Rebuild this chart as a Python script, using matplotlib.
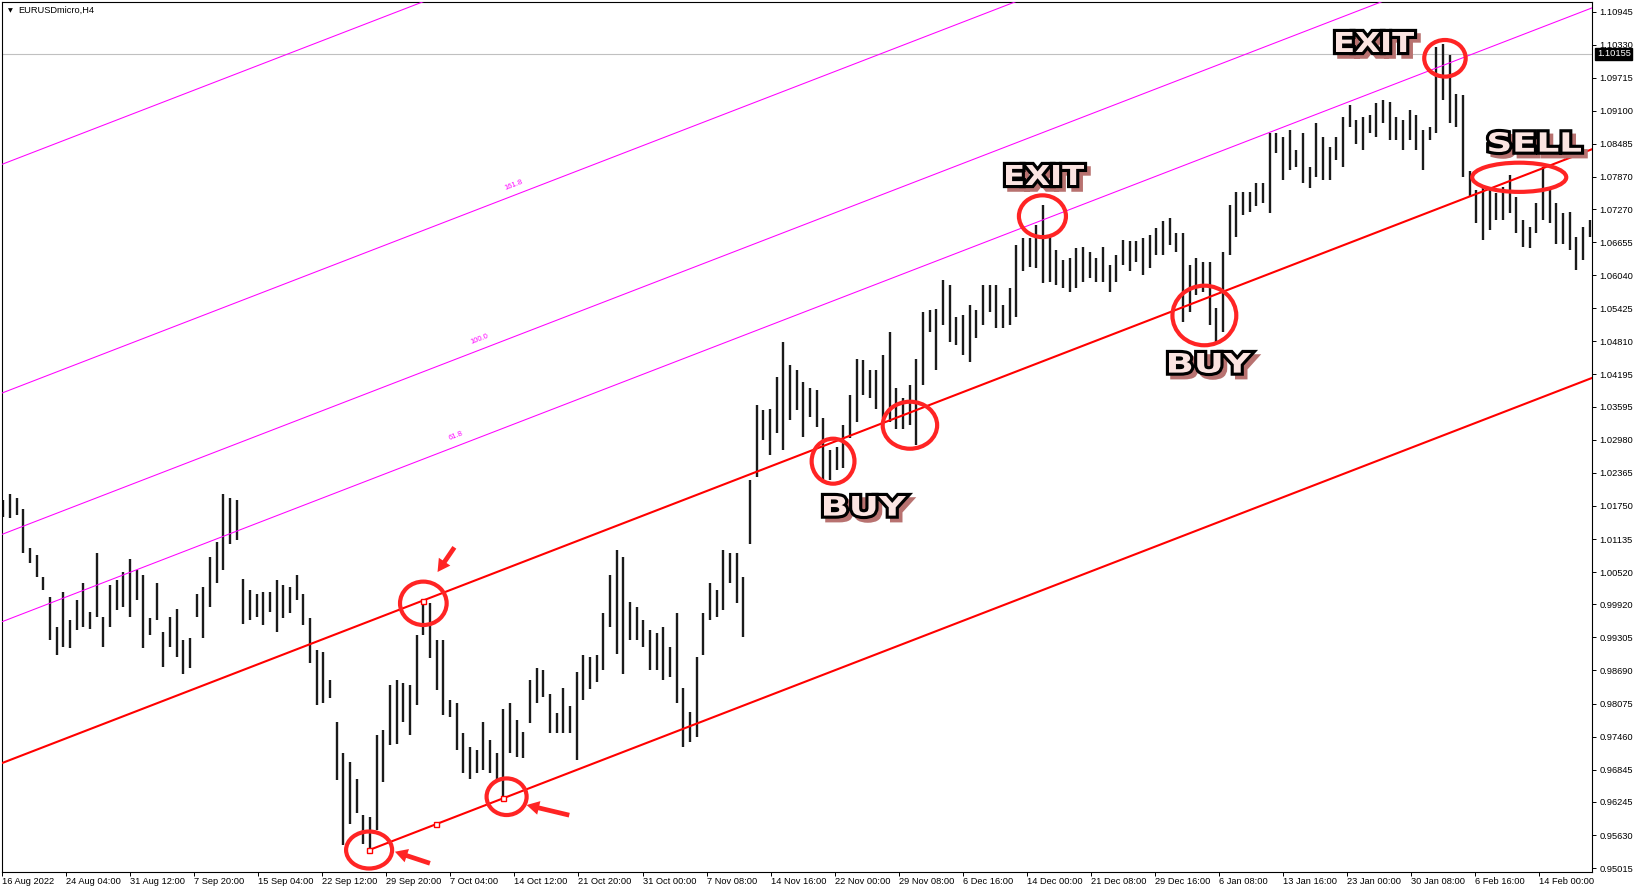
import math
import numpy as np
import matplotlib
matplotlib.use("Agg")
import matplotlib.pyplot as plt
import matplotlib.patheffects as pe
from matplotlib import transforms
from matplotlib.patches import Ellipse, FancyArrowPatch, PathPatch
from matplotlib.textpath import TextPath
from matplotlib.font_manager import FontProperties

W, H, DPI = 1638, 893, 100

# EURUSD H4, each drawn bar covers ~3.3 candles (high / low)
HIGHS = [
    1.0186, 1.0198, 1.0189, 1.0170, 1.0096, 1.0083, 1.0043, 1.0006, 0.9950, 1.0015,
    0.9963, 1.0000, 1.0031, 0.9978, 1.0087, 0.9969, 1.0028, 1.0037, 1.0052, 1.0077,
    1.0056, 1.0046, 0.9966, 1.0031, 0.9941, 0.9969, 0.9984, 0.9925, 0.9929, 1.0012,
    1.0025, 1.0080, 1.0108, 1.0198, 1.0189, 1.0186, 1.0040, 1.0018, 1.0012, 1.0015,
    1.0015, 1.0037, 1.0028, 1.0025, 1.0046, 1.0012, 0.9966, 0.9907, 0.9904, 0.9851,
    0.9774, 0.9715, 0.9699, 0.9668, 0.9600, 0.9597, 0.9749, 0.9758, 0.9842, 0.9851,
    0.9845, 0.9842, 0.9935,
    0.9999, 0.9994, 0.9926, 0.9926, 0.9814, 0.9808, 0.9752, 0.9727, 0.9721, 0.9774,
    0.9740, 0.9715, 0.9798, 0.9808, 0.9777, 0.9755, 0.9851, 0.9873, 0.9870, 0.9826,
    0.9789, 0.9836, 0.9802, 0.9867,
    0.9898, 0.9894, 0.9898, 0.9975, 1.0046, 1.0093, 1.0080, 0.9997, 0.9987, 0.9963,
    0.9944, 0.9938, 0.9950, 0.9913, 0.9975, 0.9836, 0.9792, 0.9894, 0.9975, 1.0031,
    1.0018, 1.0093, 1.0087, 1.0087, 1.0043, 1.0223, 1.0363, 1.0353, 1.0356, 1.0415,
    1.0480, 1.0437, 1.0428, 1.0406, 1.0394, 1.0390, 1.0338, 1.0279, 1.0285,
    1.0326, 1.0381, 1.0449, 1.0446, 1.0428, 1.0428, 1.0456, 1.0499, 1.0394, 1.0375,
    1.0400, 1.0449, 1.0536, 1.0539, 1.0542, 1.0595, 1.0586, 1.0527, 1.0530, 1.0549,
    1.0539, 1.0586, 1.0586, 1.0586, 1.0549, 1.0580, 1.0660, 1.0673, 1.0673, 1.0697,
    1.0735, 1.0679, 1.0651, 1.0632, 1.0636, 1.0654, 1.0657, 1.0648, 1.0636, 1.0657,
    1.0623, 1.0642, 1.0670, 1.0667, 1.0667, 1.0673, 1.0679, 1.0691, 1.0704, 1.0710,
    1.0682, 1.0682, 1.0623, 1.0636, 1.0629, 1.0629, 1.0543, 1.0648, 1.0735,
    1.0759, 1.0759, 1.0759, 1.0775, 1.0775, 1.0868, 1.0868, 1.0862, 1.0874, 1.0837,
    1.0868, 1.0806, 1.0887, 1.0862, 1.0843, 1.0862, 1.0899, 1.0921, 1.0893, 1.0899,
    1.0902, 1.0924, 1.0930, 1.0927, 1.0899, 1.0893, 1.0911, 1.0902, 1.0874, 1.0880,
    1.1029, 1.1034, 1.1014, 1.0942, 1.0939, 1.0797, 1.0763, 1.0769, 1.0763, 1.0757,
    1.0769, 1.0790, 1.0750, 1.0707, 1.0694, 1.0738, 1.0806, 1.0769, 1.0738, 1.0719,
    1.0722, 1.0676, 1.0694, 1.0707,
]
LOWS = [
    1.0155, 1.0152, 1.0158, 1.0087, 1.0068, 1.0043, 1.0018, 0.9925, 0.9898, 0.9913,
    0.9910, 0.9944, 0.9950, 0.9947, 0.9969, 0.9913, 0.9950, 0.9981, 0.9987, 0.9969,
    1.0000, 0.9910, 0.9935, 0.9963, 0.9876, 0.9913, 0.9894, 0.9863, 0.9873, 0.9969,
    0.9929, 0.9987, 1.0031, 1.0056, 1.0105, 1.0111, 0.9956, 0.9963, 0.9969, 0.9953,
    0.9978, 0.9941, 0.9966, 0.9975, 1.0000, 0.9953, 0.9882, 0.9805, 0.9808, 0.9817,
    0.9665, 0.9544, 0.9584, 0.9603, 0.9547, 0.9535, 0.9572, 0.9662, 0.9730, 0.9733,
    0.9774, 0.9749, 0.9805,
    0.9935, 0.9892, 0.9833, 0.9786, 0.9783, 0.9721, 0.9678, 0.9668, 0.9678, 0.9684,
    0.9678, 0.9665, 0.9631, 0.9715, 0.9709, 0.9706, 0.9771, 0.9808, 0.9820, 0.9752,
    0.9752, 0.9752, 0.9752, 0.9702,
    0.9814, 0.9835, 0.9848, 0.9870, 0.9950, 0.9900, 0.9863, 0.9925, 0.9925, 0.9913,
    0.9870, 0.9870, 0.9851, 0.9857, 0.9808, 0.9727, 0.9736, 0.9746, 0.9898, 0.9963,
    0.9969, 0.9981, 1.0031, 0.9994, 0.9932, 1.0105, 1.0229, 1.0297, 1.0270, 1.0310,
    1.0279, 1.0335, 1.0353, 1.0304, 1.0341, 1.0322, 1.0223, 1.0223, 1.0242,
    1.0245, 1.0301, 1.0332, 1.0381, 1.0375, 1.0356, 1.0338, 1.0332, 1.0319, 1.0319,
    1.0325, 1.0288, 1.0400, 1.0499, 1.0428, 1.0511, 1.0480, 1.0474, 1.0456, 1.0443,
    1.0487, 1.0511, 1.0536, 1.0505, 1.0505, 1.0511, 1.0527, 1.0611, 1.0620, 1.0617,
    1.0589, 1.0592, 1.0586, 1.0580, 1.0573, 1.0580, 1.0592, 1.0598, 1.0592, 1.0592,
    1.0573, 1.0592, 1.0623, 1.0611, 1.0629, 1.0604, 1.0617, 1.0642, 1.0642, 1.0660,
    1.0648, 1.0518, 1.0536, 1.0567, 1.0573, 1.0511, 1.0480, 1.0499, 1.0642,
    1.0676, 1.0716, 1.0722, 1.0732, 1.0738, 1.0719, 1.0831, 1.0781, 1.0800, 1.0806,
    1.0775, 1.0766, 1.0787, 1.0781, 1.0781, 1.0818, 1.0806, 1.0880, 1.0849, 1.0837,
    1.0868, 1.0862, 1.0887, 1.0856, 1.0856, 1.0837, 1.0856, 1.0837, 1.0800, 1.0856,
    1.0868, 1.0930, 1.0887, 1.0880, 1.0787, 1.0750, 1.0701, 1.0670, 1.0688, 1.0707,
    1.0707, 1.0719, 1.0682, 1.0657, 1.0654, 1.0682, 1.0707, 1.0701, 1.0663, 1.0663,
    1.0651, 1.0614, 1.0632, 1.0676,
]
CANDLES_PER_BAR = 3.33

DATE_LABELS = [
    "16 Aug 2022", "24 Aug 04:00", "31 Aug 12:00", "7 Sep 20:00", "15 Sep 04:00",
    "22 Sep 12:00", "29 Sep 20:00", "7 Oct 04:00", "14 Oct 12:00", "21 Oct 20:00",
    "31 Oct 00:00", "7 Nov 08:00", "14 Nov 16:00", "22 Nov 00:00", "29 Nov 08:00",
    "6 Dec 16:00", "14 Dec 00:00", "21 Dec 08:00", "29 Dec 16:00", "6 Jan 08:00",
    "13 Jan 16:00", "23 Jan 00:00", "30 Jan 08:00", "6 Feb 16:00", "14 Feb 00:00",
]
CANDLES_PER_LABEL = 32

PRICE_TICKS = [
    1.10945, 1.10330, 1.09715, 1.09100, 1.08485, 1.07870, 1.07270, 1.06655, 1.06040,
    1.05425, 1.04810, 1.04195, 1.03595, 1.02980, 1.02365, 1.01750, 1.01135, 1.00520,
    0.99920, 0.99305, 0.98690, 0.98075, 0.97460, 0.96845, 0.96245, 0.95630, 0.95015,
]
BID = 1.10155

# channel anchors: (candle index, price)
LOW1 = (183.4, 0.9535)
LOW2 = (250.2, 0.9631)
HIGH1 = (210.3, 0.9999)
FIB_LEVELS = [0.618, 1.0, 1.618, 2.618]
FIB_TEXT = ["61.8", "100.0", "161.8"]
FIB_TEXT_X = [229.7, 241.2, 258.3]

# annotations (candle index, price, width in candles, height in price)
CIRCLES = [
    (210.5, 0.99939, 23.3, 0.00807),
    (183.4, 0.95351, 23.0, 0.00688),
    (252.1, 0.96342, 20.0, 0.00681),
    (415.2, 1.02582, 21.4, 0.00837),
    (453.6, 1.03251, 27.2, 0.00874),
    (519.8, 1.07138, 23.5, 0.00777),
    (600.7, 1.05292, 31.9, 0.01108),
    (720.9, 1.10075, 20.7, 0.00681),
    (758.0, 1.07862, 47.0, 0.00543),
]
ARROWS = [
    ((226.0, 1.00980), (217.6, 1.00521)),
    ((283.4, 0.95999), (262.1, 0.96188)),
    ((213.8, 0.95104), (196.3, 0.95319)),
]
# stamp texts: (text, centre x px, centre y px from top, width px, height px)
STAMPS = [
    ("BUY", 865, 506, 82, 20),
    ("EXIT", 1045, 175, 78, 20),
    ("BUY", 1210, 363, 82, 20),
    ("EXIT", 1375, 42, 78, 20),
    ("SELL", 1535, 142, 92, 20),
]

RED = "#ff0000"
MARK = "#ff2424"
MAGENTA = "#ff00ff"
TICK_FONT = ["Liberation Sans", "DejaVu Sans"]

fig = plt.figure(figsize=(W / DPI, H / DPI), dpi=DPI)
ax = fig.add_axes([2 / W, 21 / H, 1590 / W, 870 / H])
x_max = 1590 / 2.0016
ax.set_xlim(0, x_max)
ax.set_ylim(0.94942, 1.11122)

bar_x = 0.67 + np.arange(len(HIGHS)) * CANDLES_PER_BAR
ax.vlines(bar_x, LOWS, HIGHS, colors="#1a1a1a", linewidth=1.7, zorder=2)

# channel
slope = (LOW2[1] - LOW1[1]) / (LOW2[0] - LOW1[0])
width = HIGH1[1] - (LOW1[1] + slope * (HIGH1[0] - LOW1[0]))


def upper(x):
    return HIGH1[1] + slope * (np.asarray(x) - HIGH1[0])


xs = np.array([0, x_max])
ax.plot(xs, upper(xs), color=RED, lw=1.5, zorder=3)
xl = np.array([LOW1[0], x_max])
ax.plot(xl, LOW1[1] + slope * (xl - LOW1[0]), color=RED, lw=1.5, zorder=3)
for lvl in FIB_LEVELS:
    ax.plot(xs, upper(xs) + lvl * width, color=MAGENTA, lw=0.75, zorder=3)

mid = (LOW1[0] + LOW2[0]) / 2
sq_x = [LOW1[0], mid, LOW2[0], HIGH1[0]]
sq_y = [LOW1[1], LOW1[1] + slope * (mid - LOW1[0]), LOW2[1], HIGH1[1]]
ax.plot(sq_x, sq_y, ls="none", marker="s", ms=3.6, mfc="white", mec=RED, mew=1, zorder=4)

p0 = ax.transData.transform((0, upper(0)))
p1 = ax.transData.transform((100, upper(100)))
angle = math.degrees(math.atan2(p1[1] - p0[1], p1[0] - p0[0]))
for lvl, txt, tx in zip(FIB_LEVELS, FIB_TEXT, FIB_TEXT_X):
    ax.annotate(txt, (tx, upper(tx) + lvl * width), xytext=(-4, 6), textcoords="offset points",
                color=MAGENTA, fontsize=5.5, family=TICK_FONT, rotation=angle,
                ha="center", va="center", zorder=4)

ax.axhline(BID, color="#c0c0c0", lw=0.8, zorder=1)

for cx, cy, w, h in CIRCLES:
    ax.add_patch(Ellipse((cx, cy), w, h, fill=False, ec=MARK, lw=3.0, zorder=5))
for tail, head in ARROWS:
    ax.add_patch(FancyArrowPatch(tail, head, arrowstyle="simple,head_length=0.45,head_width=0.5,tail_width=0.17",
                                 mutation_scale=20, color=MARK, lw=0, shrinkA=0, shrinkB=0, zorder=5))

# axes look
for sp in ax.spines.values():
    sp.set_linewidth(0.8)
    sp.set_color("black")
ax.yaxis.tick_right()
ax.set_yticks(PRICE_TICKS)
ax.set_yticklabels([f"{p:.5f}" for p in PRICE_TICKS])
ax.set_xticks([CANDLES_PER_LABEL * k for k in range(len(DATE_LABELS))])
ax.set_xticklabels(DATE_LABELS, ha="left")
ax.tick_params(axis="y", direction="out", length=3, width=0.7, pad=2.2, labelsize=6.7)
ax.tick_params(axis="x", direction="out", length=3, width=0.7, pad=0.6, labelsize=6.7)
for lab in ax.get_xticklabels() + ax.get_yticklabels():
    lab.set_family(TICK_FONT)

bid_tr = transforms.blended_transform_factory(ax.transAxes, ax.transData)
ax.text(1.003, BID, f"{BID:.5f}", transform=bid_tr, ha="left", va="center", color="white",
        fontsize=6.7, family=TICK_FONT, zorder=10,
        bbox=dict(facecolor="black", edgecolor="black", pad=1.2), clip_on=False)

fig.text(8 / W, 1 - 10.5 / H, "\u25bc", fontsize=4.5, va="center", ha="left")
fig.text(18 / W, 1 - 10.5 / H, "EURUSDmicro,H4", fontsize=6.7, va="center", ha="left", family=TICK_FONT)

# big stamp labels
fp = FontProperties(family="DejaVu Sans", weight="bold")
for txt, cx, cy, tw, th in STAMPS:
    tp = TextPath((0, 0), txt, size=100, prop=fp)
    ext = tp.get_extents()
    base = (transforms.Affine2D()
            .translate(-ext.x0 - ext.width / 2, -ext.y0 - ext.height / 2)
            .scale(tw / ext.width, th / ext.height)
            .translate(cx, H - cy))
    shadow = PathPatch(tp, transform=base + transforms.Affine2D().translate(4, -4),
                       fc="#c98380", ec="#b87270", lw=4, zorder=20)
    main = PathPatch(tp, transform=base, fc="#fbe4e1", ec="none", zorder=21,
                     path_effects=[pe.Stroke(linewidth=4.5, foreground="black"), pe.Normal()])
    fig.add_artist(shadow)
    fig.add_artist(main)

fig.savefig("out.png", dpi=DPI)
